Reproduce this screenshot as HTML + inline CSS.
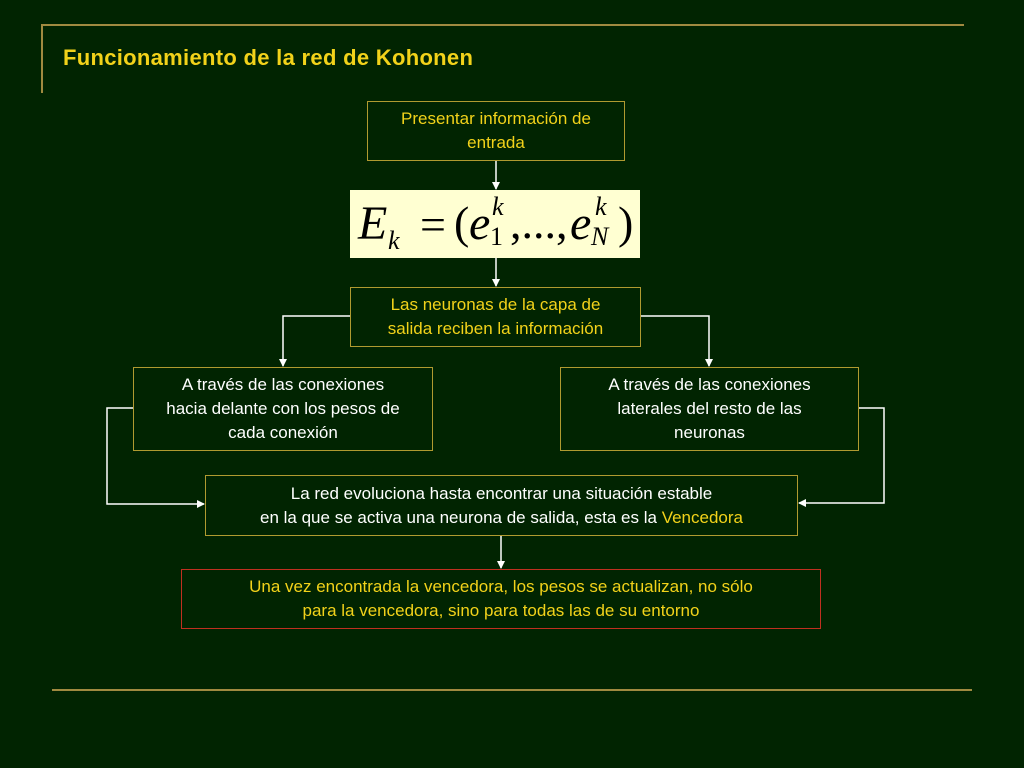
<!DOCTYPE html>
<html><head><meta charset="utf-8"><style>
body{margin:0;width:1024px;height:768px;background:#012401;position:relative;overflow:hidden;font-family:"Liberation Sans",sans-serif}
.b{position:absolute;box-sizing:border-box;border:1px solid #b09a30;display:flex;align-items:center;justify-content:center;text-align:center;font-size:17px;line-height:24px}
.y{color:#f2d21a}.w{color:#fff}
.t{position:absolute;left:63px;top:45px;color:#f2d21a;font-weight:bold;font-size:22px;letter-spacing:0.3px}
svg{position:absolute;left:0;top:0}
.f{position:absolute;font-family:"Liberation Serif",serif;color:#000;line-height:1}
</style></head><body>
<svg width="1024" height="768">
<defs><marker id="a" markerWidth="8" markerHeight="8" refX="7" refY="4" orient="auto" markerUnits="userSpaceOnUse"><path d="M0,0L8,4L0,8z" fill="#fff"/></marker></defs>
<path d="M42,93V25H964" stroke="#a08a40" stroke-width="2" fill="none"/>
<path d="M52,690H972" stroke="#a08a40" stroke-width="2"/>
<g stroke="#fff" stroke-width="1.5" fill="none" marker-end="url(#a)">
<path d="M496,160V189"/><path d="M496,258V286"/>
<path d="M350,316H283V366"/><path d="M640,316H709V366"/>
<path d="M133,408H107V504H204"/><path d="M858,408H884V503H799"/>
<path d="M501,535V568"/>
</g>
</svg>
<div class="t">Funcionamiento de la red de Kohonen</div>
<div class="b y" style="left:367px;top:101px;width:258px;height:60px"><div>Presentar información de<br>entrada</div></div>
<div style="position:absolute;left:350px;top:190px;width:290px;height:68px;background:#ffffd2">
<span class="f" style="left:8px;top:10px;font-size:48px;font-style:italic">E</span>
<span class="f" style="left:38px;top:38px;font-size:26px;font-style:italic">k</span>
<span class="f" style="left:70px;top:12px;font-size:46px">=</span>
<span class="f" style="left:104px;top:10px;font-size:46px">(</span>
<span class="f" style="left:119px;top:10px;font-size:48px;font-style:italic">e</span>
<span class="f" style="left:142px;top:4px;font-size:26px;font-style:italic">k</span>
<span class="f" style="left:140px;top:34px;font-size:26px">1</span>
<span class="f" style="left:160px;top:10px;font-size:46px">,...,</span>
<span class="f" style="left:220px;top:10px;font-size:48px;font-style:italic">e</span>
<span class="f" style="left:245px;top:4px;font-size:26px;font-style:italic">k</span>
<span class="f" style="left:241px;top:34px;font-size:26px;font-style:italic">N</span>
<span class="f" style="left:268px;top:10px;font-size:46px">)</span>
</div>
<div class="b y" style="left:350px;top:287px;width:291px;height:60px"><div>Las neuronas de la capa de<br>salida reciben la información</div></div>
<div class="b w" style="left:133px;top:367px;width:300px;height:84px"><div>A través de las conexiones<br>hacia delante con los pesos de<br>cada conexión</div></div>
<div class="b w" style="left:560px;top:367px;width:299px;height:84px"><div>A través de las conexiones<br>laterales del resto de las<br>neuronas</div></div>
<div class="b w" style="left:205px;top:475px;width:593px;height:61px"><div>La red evoluciona hasta encontrar una situación estable<br>en la que se activa una neurona de salida, esta es la <span class="y">Vencedora</span></div></div>
<div class="b y" style="left:181px;top:569px;width:640px;height:60px;border-color:#c03020"><div>Una vez encontrada la vencedora, los pesos se actualizan, no sólo<br>para la vencedora, sino para todas las de su entorno</div></div>
</body></html>
